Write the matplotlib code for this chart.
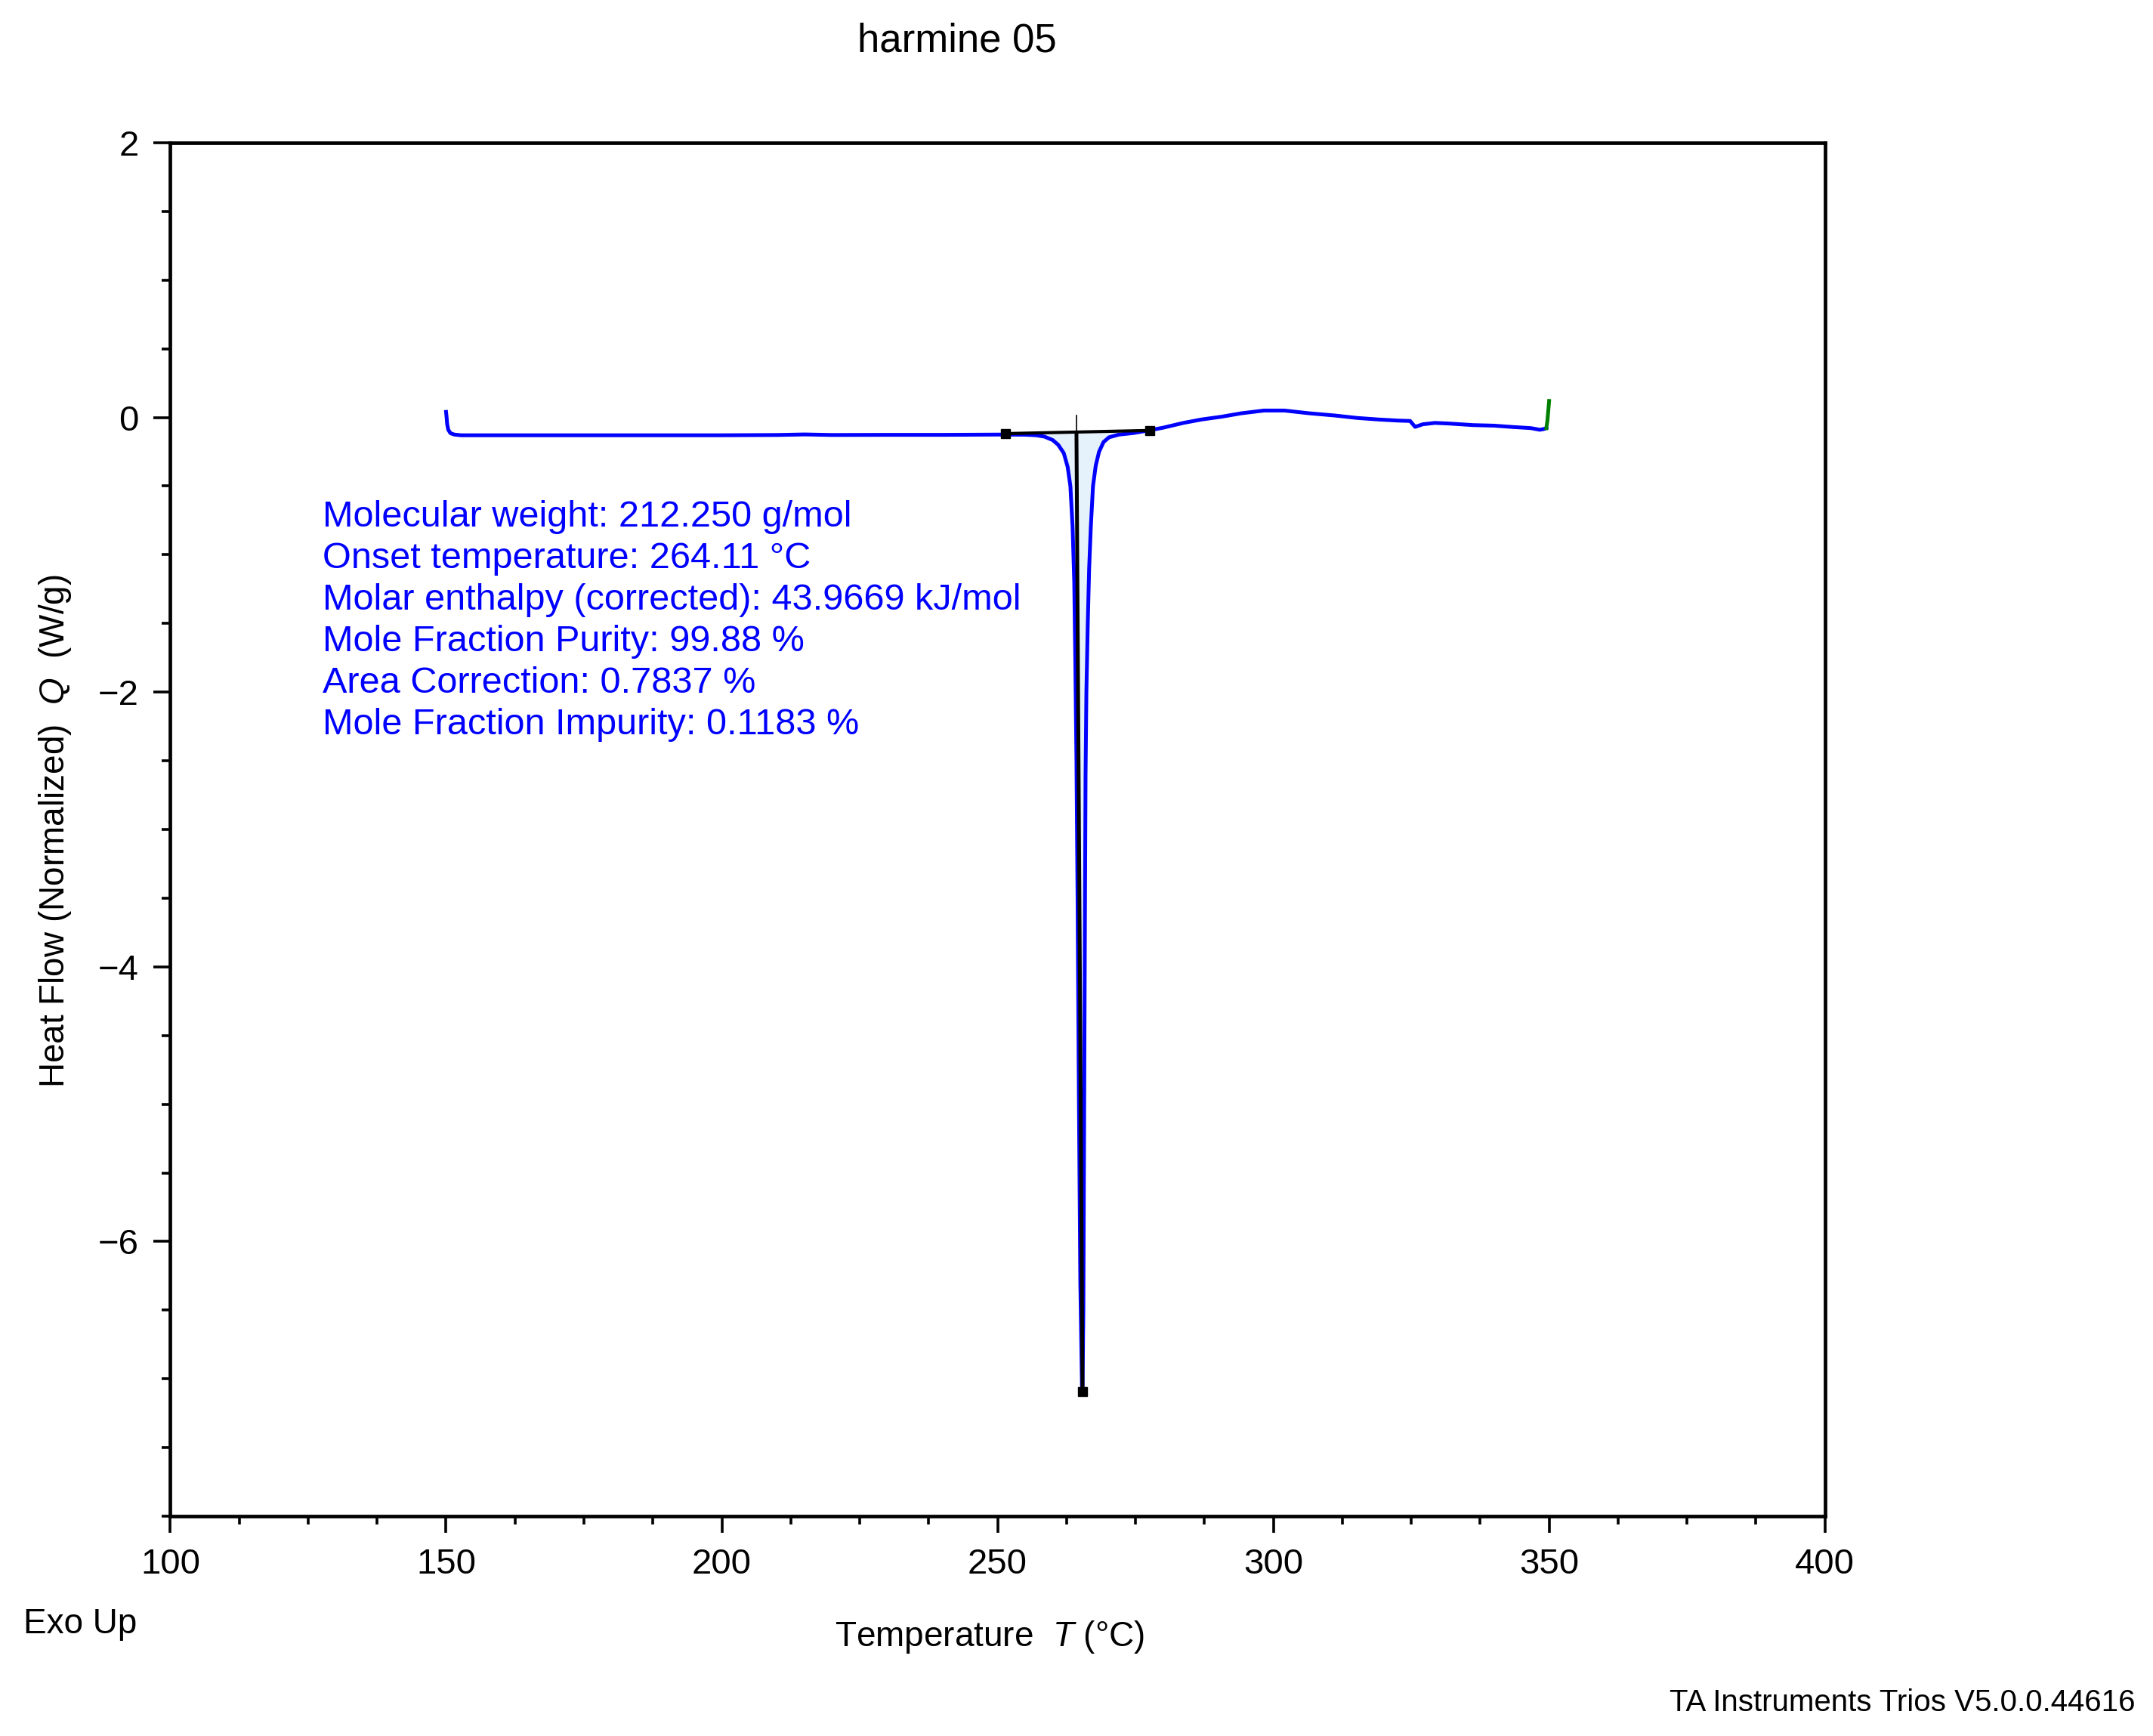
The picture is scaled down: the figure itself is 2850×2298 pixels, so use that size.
import numpy as np
import matplotlib
matplotlib.use("Agg")
import matplotlib.pyplot as plt
from matplotlib.ticker import MultipleLocator

plt.rcParams['font.family'] = ['Liberation Sans', 'DejaVu Sans']
plt.rcParams['mathtext.fontset'] = 'custom'
plt.rcParams['mathtext.rm'] = 'Liberation Sans'
plt.rcParams['mathtext.it'] = 'Liberation Sans:italic'

# heat flow curve (blue)
temp = [150.0, 150.1, 150.2, 150.4, 150.8, 151.5, 152.7, 160.0, 180.0, 200.0,
        210.0, 215.0, 220.0, 230.0, 240.0, 250.0, 255.0, 257.0, 258.5, 260.0,
        261.0, 262.0, 262.7, 263.2, 263.6, 263.9, 264.1, 264.3, 264.5, 264.75,
        265.0, 265.3, 265.4, 265.55, 265.65, 265.75, 265.85, 265.95, 266.1, 266.35,
        266.6, 266.9, 267.3, 267.8, 268.4, 269.2, 270.2, 272.0, 274.6, 277.8,
        280.0, 283.7, 287.0, 290.6, 294.2, 298.3, 302.0, 306.5, 311.1, 315.2,
        319.0, 322.5, 324.8, 325.7, 327.1, 329.3, 332.0, 336.2, 340.0, 343.1,
        346.7, 348.3, 349.0, 349.5]
heat_flow = [0.04, 0.0, -0.05, -0.09, -0.115, -0.125, -0.13, -0.13, -0.13, -0.13,
             -0.128, -0.124, -0.128, -0.127, -0.127, -0.125, -0.126, -0.13, -0.14, -0.165,
             -0.2, -0.26, -0.36, -0.5, -0.8, -1.2, -1.8, -2.5, -3.5, -5.0,
             -6.3, -7.05, -7.09, -6.5, -5.5, -4.5, -3.5, -2.6, -2.0, -1.5,
             -1.1, -0.8, -0.5, -0.35, -0.25, -0.18, -0.145, -0.125, -0.114, -0.092,
             -0.075, -0.04, -0.015, 0.005, 0.03, 0.05, 0.05, 0.03, 0.014, -0.004,
             -0.015, -0.023, -0.026, -0.069, -0.05, -0.04, -0.045, -0.056, -0.06, -0.069,
             -0.078, -0.09, -0.085, -0.078]

# end of run (green)
temp_end = [349.5, 349.7, 349.85, 350.0]
heat_flow_end = [-0.078, -0.02, 0.05, 0.12]

# integration baseline and peak marker
base_T = [251.4, 277.6]
base_Q = [-0.118, -0.095]
peak_line_T = [264.3, 265.4]
peak_line_Q = [-0.11, -7.09]
tick_mark_Q = [-0.11, 0.015]

info_lines = [
    "Molecular weight: 212.250 g/mol",
    "Onset temperature: 264.11 \u00b0C",
    "Molar enthalpy (corrected): 43.9669 kJ/mol",
    "Mole Fraction Purity: 99.88 %",
    "Area Correction: 0.7837 %",
    "Mole Fraction Impurity: 0.1183 %",
]

fig = plt.figure(figsize=(28.5, 22.98), dpi=100)
ax = fig.add_axes([0.0791, 0.1266, 0.7685, 0.7912])

T = np.array(temp)
Q = np.array(heat_flow)

# shaded peak area between curve and baseline
sel = (T >= base_T[0]) & (T <= base_T[1])
poly_T = np.concatenate([T[sel], base_T[::-1]])
poly_Q = np.concatenate([Q[sel], base_Q[::-1]])
ax.fill(poly_T, poly_Q, color='#e6f2fb', lw=0, zorder=1)

ax.plot(T, Q, color='#0000ff', lw=3.6, zorder=3)
ax.plot(temp_end, heat_flow_end, color='#008000', lw=3.6, zorder=3)
ax.plot(base_T, base_Q, color='black', lw=3.0, marker='s', ms=9, zorder=4)
ax.plot(peak_line_T, peak_line_Q, color='black', lw=3.6, zorder=4)
ax.plot(peak_line_T[1], peak_line_Q[1], color='black', marker='s', ms=9, zorder=4)
ax.plot([peak_line_T[0], peak_line_T[0]], tick_mark_Q, color='black', lw=1.2, zorder=4)

for i, line in enumerate(info_lines):
    ax.text(127.6, -0.795 - 0.302 * i, line, color='#0000ff', fontsize=35, va='baseline')

ax.set_xlim(100, 400)
ax.set_ylim(-8, 2)
ax.xaxis.set_major_locator(MultipleLocator(50))
ax.xaxis.set_minor_locator(MultipleLocator(12.5))
ax.yaxis.set_major_locator(MultipleLocator(2))
ax.yaxis.set_minor_locator(MultipleLocator(0.5))
ax.set_yticks([-6, -4, -2, 0, 2])
ax.set_yticklabels(['\u22126', '\u22124', '\u22122', '0', '2'])
ax.tick_params(which='major', direction='out', length=16, width=2.6, labelsize=34, pad=14)
ax.tick_params(which='minor', direction='out', length=8, width=2.6)
ax.tick_params(top=False, right=False)
for s in ax.spines.values():
    s.set_linewidth(3.4)

ax.set_xlabel("Temperature  $T$ (\u00b0C)", fontsize=33)
ax.xaxis.set_label_coords(0.4952, -0.0878)
ax.xaxis.label.set_va('center')
ax.set_ylabel("Heat Flow (Normalized)  $Q$  (W/g)", fontsize=33)
ax.yaxis.set_label_coords(-0.0697, 0.499)
ax.yaxis.label.set_va('center')

fig.text(0.4445, 0.9763, "harmine 05", fontsize=38, ha='center', va='center')
fig.text(0.011, 0.0643, "Exo Up", fontsize=33, ha='left', va='center')
fig.text(0.9916, 0.0191, "TA Instruments Trios V5.0.0.44616", fontsize=29, ha='right', va='center')

fig.savefig("out.png", dpi=100)
